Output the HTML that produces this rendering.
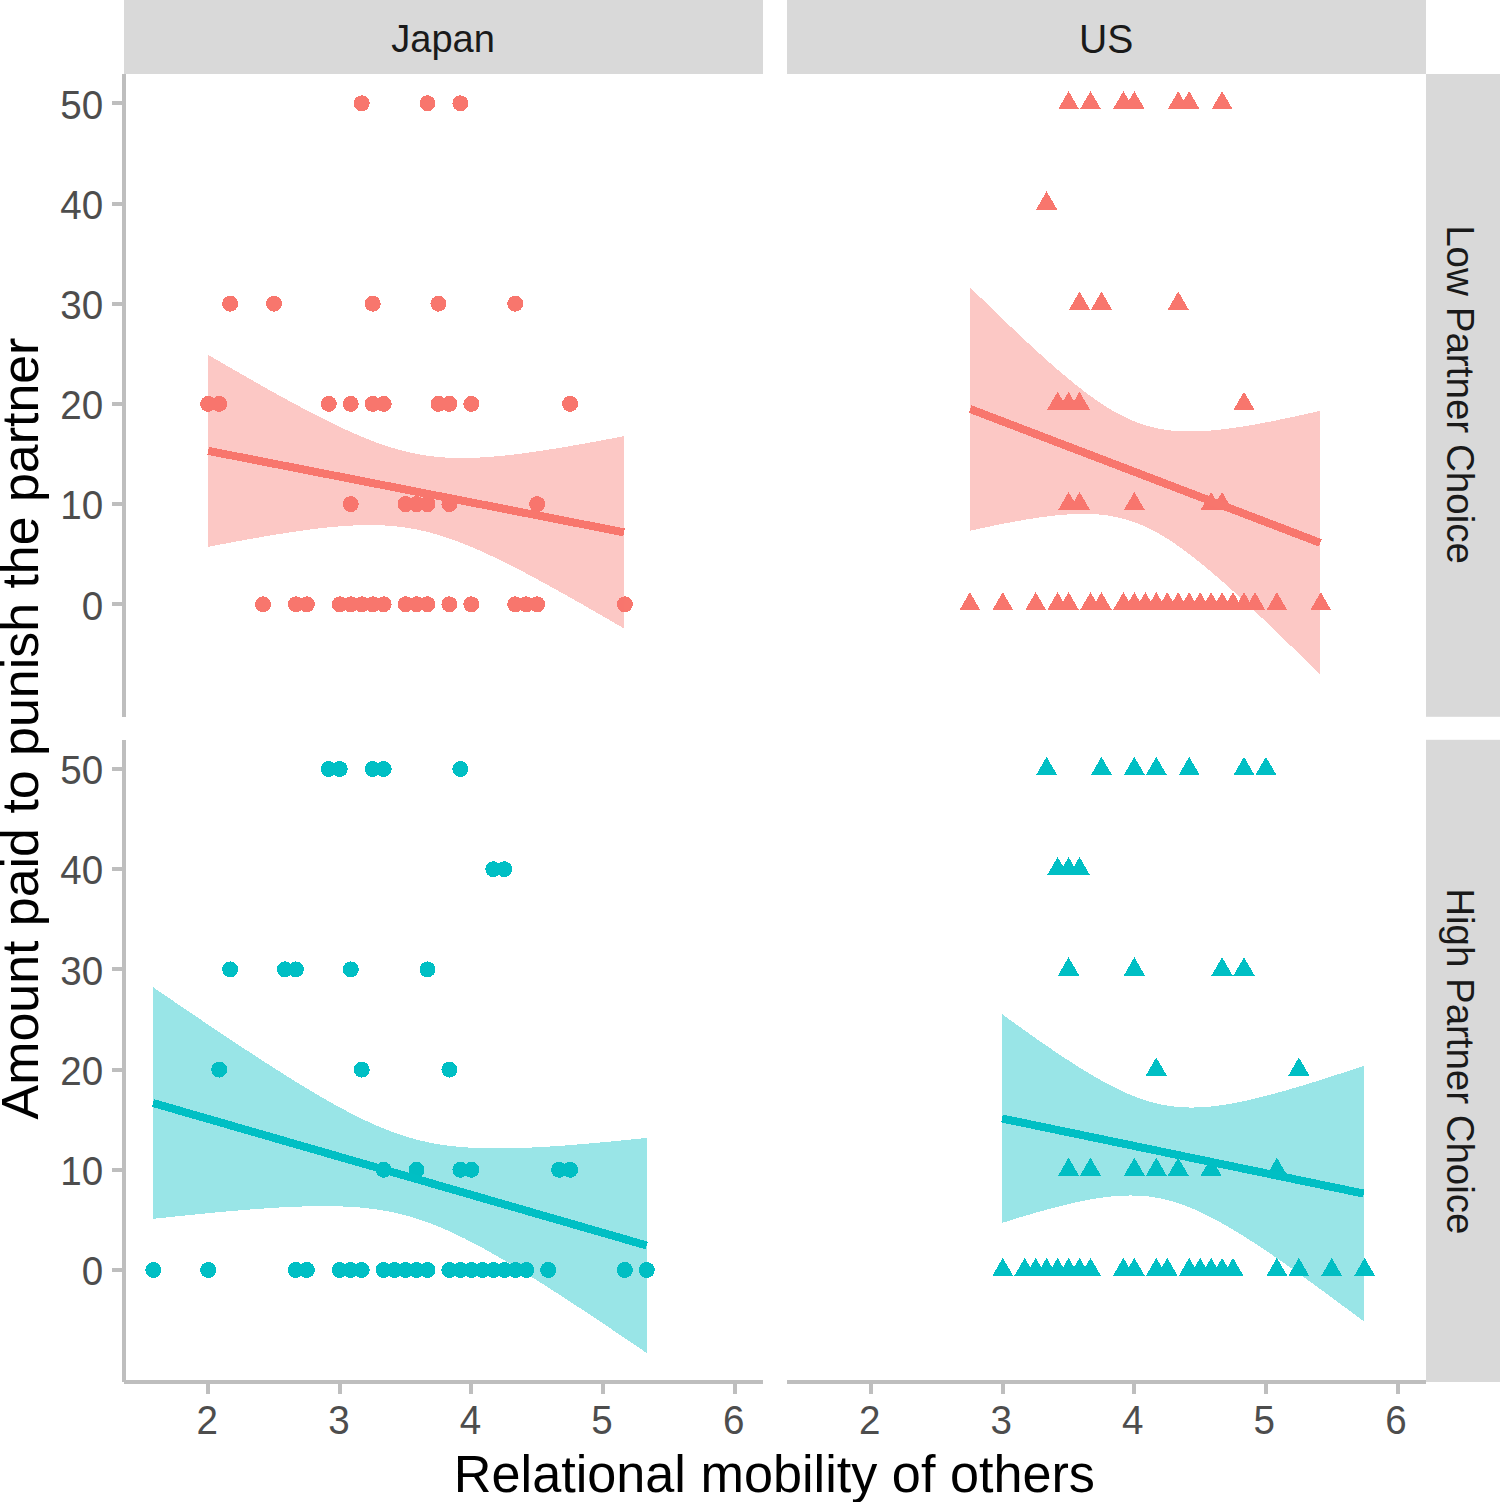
<!DOCTYPE html><html><head><meta charset="utf-8"><title>plot</title><style>html,body{margin:0;padding:0;background:#fff;width:1500px;height:1502px;overflow:hidden}svg{display:block;font-family:"Liberation Sans",sans-serif}</style></head><body><svg width="1500" height="1502" viewBox="0 0 1500 1502"><rect width="1500" height="1502" fill="#FFFFFF"/><rect x="124" y="0" width="639" height="74" fill="#D9D9D9"/>
<rect x="787" y="0" width="639" height="74" fill="#D9D9D9"/>
<rect x="1426" y="74" width="74" height="642.8" fill="#D9D9D9"/>
<rect x="1426" y="739.8" width="74" height="642.2" fill="#D9D9D9"/>
<g shape-rendering="crispEdges">
<g fill="#F8766D"><circle cx="361.71" cy="103.30" r="8.0"/><circle cx="427.50" cy="103.30" r="8.0"/><circle cx="460.39" cy="103.30" r="8.0"/><circle cx="230.13" cy="303.70" r="8.0"/><circle cx="273.99" cy="303.70" r="8.0"/><circle cx="372.68" cy="303.70" r="8.0"/><circle cx="438.47" cy="303.70" r="8.0"/><circle cx="515.22" cy="303.70" r="8.0"/><circle cx="208.20" cy="403.90" r="8.0"/><circle cx="219.17" cy="403.90" r="8.0"/><circle cx="328.81" cy="403.90" r="8.0"/><circle cx="350.75" cy="403.90" r="8.0"/><circle cx="372.68" cy="403.90" r="8.0"/><circle cx="383.64" cy="403.90" r="8.0"/><circle cx="438.47" cy="403.90" r="8.0"/><circle cx="449.43" cy="403.90" r="8.0"/><circle cx="471.36" cy="403.90" r="8.0"/><circle cx="570.05" cy="403.90" r="8.0"/><circle cx="350.75" cy="504.10" r="8.0"/><circle cx="405.57" cy="504.10" r="8.0"/><circle cx="416.54" cy="504.10" r="8.0"/><circle cx="427.50" cy="504.10" r="8.0"/><circle cx="449.43" cy="504.10" r="8.0"/><circle cx="537.15" cy="504.10" r="8.0"/><circle cx="263.02" cy="604.30" r="8.0"/><circle cx="295.92" cy="604.30" r="8.0"/><circle cx="306.88" cy="604.30" r="8.0"/><circle cx="339.78" cy="604.30" r="8.0"/><circle cx="350.75" cy="604.30" r="8.0"/><circle cx="361.71" cy="604.30" r="8.0"/><circle cx="372.68" cy="604.30" r="8.0"/><circle cx="383.64" cy="604.30" r="8.0"/><circle cx="405.57" cy="604.30" r="8.0"/><circle cx="416.54" cy="604.30" r="8.0"/><circle cx="427.50" cy="604.30" r="8.0"/><circle cx="449.43" cy="604.30" r="8.0"/><circle cx="471.36" cy="604.30" r="8.0"/><circle cx="515.22" cy="604.30" r="8.0"/><circle cx="526.19" cy="604.30" r="8.0"/><circle cx="537.15" cy="604.30" r="8.0"/><circle cx="624.87" cy="604.30" r="8.0"/></g>
<path fill="#F8766D" d="M1068.57,91.09L1079.14,109.40L1058.00,109.40ZM1090.50,91.09L1101.07,109.40L1079.93,109.40ZM1123.39,91.09L1133.97,109.40L1112.82,109.40ZM1134.36,91.09L1144.93,109.40L1123.79,109.40ZM1178.22,91.09L1188.79,109.40L1167.65,109.40ZM1189.18,91.09L1199.76,109.40L1178.61,109.40ZM1222.08,91.09L1232.65,109.40L1211.51,109.40ZM1046.64,191.29L1057.21,209.60L1036.07,209.60ZM1079.54,291.49L1090.11,309.80L1068.96,309.80ZM1101.47,291.49L1112.04,309.80L1090.89,309.80ZM1178.22,291.49L1188.79,309.80L1167.65,309.80ZM1057.61,391.69L1068.18,410.00L1047.03,410.00ZM1068.57,391.69L1079.14,410.00L1058.00,410.00ZM1079.54,391.69L1090.11,410.00L1068.96,410.00ZM1244.01,391.69L1254.58,410.00L1233.44,410.00ZM1068.57,491.89L1079.14,510.20L1058.00,510.20ZM1079.54,491.89L1090.11,510.20L1068.96,510.20ZM1134.36,491.89L1144.93,510.20L1123.79,510.20ZM1211.12,491.89L1221.69,510.20L1200.54,510.20ZM1222.08,491.89L1232.65,510.20L1211.51,510.20ZM969.88,592.09L980.46,610.40L959.31,610.40ZM1002.78,592.09L1013.35,610.40L992.21,610.40ZM1035.67,592.09L1046.25,610.40L1025.10,610.40ZM1057.61,592.09L1068.18,610.40L1047.03,610.40ZM1068.57,592.09L1079.14,610.40L1058.00,610.40ZM1090.50,592.09L1101.07,610.40L1079.93,610.40ZM1101.47,592.09L1112.04,610.40L1090.89,610.40ZM1123.39,592.09L1133.97,610.40L1112.82,610.40ZM1134.36,592.09L1144.93,610.40L1123.79,610.40ZM1145.33,592.09L1155.90,610.40L1134.75,610.40ZM1156.29,592.09L1166.86,610.40L1145.72,610.40ZM1167.26,592.09L1177.83,610.40L1156.68,610.40ZM1178.22,592.09L1188.79,610.40L1167.65,610.40ZM1189.18,592.09L1199.76,610.40L1178.61,610.40ZM1200.15,592.09L1210.72,610.40L1189.58,610.40ZM1211.12,592.09L1221.69,610.40L1200.54,610.40ZM1222.08,592.09L1232.65,610.40L1211.51,610.40ZM1233.05,592.09L1243.62,610.40L1222.47,610.40ZM1244.01,592.09L1254.58,610.40L1233.44,610.40ZM1254.98,592.09L1265.55,610.40L1244.40,610.40ZM1276.90,592.09L1287.48,610.40L1266.33,610.40ZM1320.77,592.09L1331.34,610.40L1310.19,610.40Z"/>
<g fill="#00BFC4"><circle cx="328.81" cy="769.00" r="8.0"/><circle cx="339.78" cy="769.00" r="8.0"/><circle cx="372.68" cy="769.00" r="8.0"/><circle cx="383.64" cy="769.00" r="8.0"/><circle cx="460.39" cy="769.00" r="8.0"/><circle cx="493.29" cy="869.20" r="8.0"/><circle cx="504.25" cy="869.20" r="8.0"/><circle cx="230.13" cy="969.40" r="8.0"/><circle cx="284.96" cy="969.40" r="8.0"/><circle cx="295.92" cy="969.40" r="8.0"/><circle cx="350.75" cy="969.40" r="8.0"/><circle cx="427.50" cy="969.40" r="8.0"/><circle cx="219.17" cy="1069.60" r="8.0"/><circle cx="361.71" cy="1069.60" r="8.0"/><circle cx="449.43" cy="1069.60" r="8.0"/><circle cx="383.64" cy="1169.80" r="8.0"/><circle cx="416.54" cy="1169.80" r="8.0"/><circle cx="460.39" cy="1169.80" r="8.0"/><circle cx="471.36" cy="1169.80" r="8.0"/><circle cx="559.08" cy="1169.80" r="8.0"/><circle cx="570.05" cy="1169.80" r="8.0"/><circle cx="153.37" cy="1270.00" r="8.0"/><circle cx="208.20" cy="1270.00" r="8.0"/><circle cx="295.92" cy="1270.00" r="8.0"/><circle cx="306.88" cy="1270.00" r="8.0"/><circle cx="339.78" cy="1270.00" r="8.0"/><circle cx="350.75" cy="1270.00" r="8.0"/><circle cx="361.71" cy="1270.00" r="8.0"/><circle cx="383.64" cy="1270.00" r="8.0"/><circle cx="394.61" cy="1270.00" r="8.0"/><circle cx="405.57" cy="1270.00" r="8.0"/><circle cx="416.54" cy="1270.00" r="8.0"/><circle cx="427.50" cy="1270.00" r="8.0"/><circle cx="449.43" cy="1270.00" r="8.0"/><circle cx="460.39" cy="1270.00" r="8.0"/><circle cx="471.36" cy="1270.00" r="8.0"/><circle cx="482.32" cy="1270.00" r="8.0"/><circle cx="493.29" cy="1270.00" r="8.0"/><circle cx="504.25" cy="1270.00" r="8.0"/><circle cx="515.22" cy="1270.00" r="8.0"/><circle cx="526.19" cy="1270.00" r="8.0"/><circle cx="548.12" cy="1270.00" r="8.0"/><circle cx="624.87" cy="1270.00" r="8.0"/><circle cx="646.80" cy="1270.00" r="8.0"/></g>
<path fill="#00BFC4" d="M1046.64,756.79L1057.21,775.10L1036.07,775.10ZM1101.47,756.79L1112.04,775.10L1090.89,775.10ZM1134.36,756.79L1144.93,775.10L1123.79,775.10ZM1156.29,756.79L1166.86,775.10L1145.72,775.10ZM1189.18,756.79L1199.76,775.10L1178.61,775.10ZM1244.01,756.79L1254.58,775.10L1233.44,775.10ZM1265.94,756.79L1276.51,775.10L1255.37,775.10ZM1057.61,856.99L1068.18,875.30L1047.03,875.30ZM1068.57,856.99L1079.14,875.30L1058.00,875.30ZM1079.54,856.99L1090.11,875.30L1068.96,875.30ZM1068.57,957.19L1079.14,975.50L1058.00,975.50ZM1134.36,957.19L1144.93,975.50L1123.79,975.50ZM1222.08,957.19L1232.65,975.50L1211.51,975.50ZM1244.01,957.19L1254.58,975.50L1233.44,975.50ZM1156.29,1057.39L1166.86,1075.70L1145.72,1075.70ZM1298.84,1057.39L1309.41,1075.70L1288.26,1075.70ZM1068.57,1157.59L1079.14,1175.90L1058.00,1175.90ZM1090.50,1157.59L1101.07,1175.90L1079.93,1175.90ZM1134.36,1157.59L1144.93,1175.90L1123.79,1175.90ZM1156.29,1157.59L1166.86,1175.90L1145.72,1175.90ZM1178.22,1157.59L1188.79,1175.90L1167.65,1175.90ZM1211.12,1157.59L1221.69,1175.90L1200.54,1175.90ZM1276.90,1157.59L1287.48,1175.90L1266.33,1175.90ZM1002.78,1257.79L1013.35,1276.10L992.21,1276.10ZM1024.71,1257.79L1035.28,1276.10L1014.14,1276.10ZM1035.67,1257.79L1046.25,1276.10L1025.10,1276.10ZM1046.64,1257.79L1057.21,1276.10L1036.07,1276.10ZM1057.61,1257.79L1068.18,1276.10L1047.03,1276.10ZM1068.57,1257.79L1079.14,1276.10L1058.00,1276.10ZM1079.54,1257.79L1090.11,1276.10L1068.96,1276.10ZM1090.50,1257.79L1101.07,1276.10L1079.93,1276.10ZM1123.39,1257.79L1133.97,1276.10L1112.82,1276.10ZM1134.36,1257.79L1144.93,1276.10L1123.79,1276.10ZM1156.29,1257.79L1166.86,1276.10L1145.72,1276.10ZM1167.26,1257.79L1177.83,1276.10L1156.68,1276.10ZM1189.18,1257.79L1199.76,1276.10L1178.61,1276.10ZM1200.15,1257.79L1210.72,1276.10L1189.58,1276.10ZM1211.12,1257.79L1221.69,1276.10L1200.54,1276.10ZM1222.08,1257.79L1232.65,1276.10L1211.51,1276.10ZM1233.05,1257.79L1243.62,1276.10L1222.47,1276.10ZM1276.90,1257.79L1287.48,1276.10L1266.33,1276.10ZM1298.84,1257.79L1309.41,1276.10L1288.26,1276.10ZM1331.73,1257.79L1342.30,1276.10L1321.16,1276.10ZM1364.62,1257.79L1375.20,1276.10L1354.05,1276.10Z"/>
<g fill-opacity="0.4">
<path d="M208.20,354.83 L213.46,357.91 L218.73,360.99 L223.99,364.06 L229.26,367.11 L234.52,370.16 L239.79,373.20 L245.05,376.22 L250.32,379.23 L255.58,382.23 L260.85,385.21 L266.11,388.17 L271.37,391.12 L276.64,394.05 L281.90,396.96 L287.17,399.84 L292.43,402.70 L297.70,405.54 L302.96,408.35 L308.23,411.12 L313.49,413.86 L318.76,416.56 L324.02,419.22 L329.28,421.84 L334.55,424.41 L339.81,426.93 L345.08,429.38 L350.34,431.78 L355.61,434.10 L360.87,436.35 L366.14,438.52 L371.40,440.60 L376.67,442.58 L381.93,444.46 L387.19,446.24 L392.46,447.90 L397.72,449.44 L402.99,450.86 L408.25,452.14 L413.52,453.30 L418.78,454.32 L424.05,455.22 L429.31,455.98 L434.58,456.61 L439.84,457.12 L445.11,457.51 L450.37,457.78 L455.63,457.95 L460.90,458.02 L466.16,457.99 L471.43,457.88 L476.69,457.68 L481.96,457.41 L487.22,457.08 L492.49,456.67 L497.75,456.22 L503.02,455.70 L508.28,455.15 L513.54,454.54 L518.81,453.90 L524.07,453.22 L529.34,452.50 L534.60,451.76 L539.87,450.98 L545.13,450.18 L550.40,449.36 L555.66,448.51 L560.93,447.64 L566.19,446.75 L571.45,445.85 L576.72,444.93 L581.98,444.00 L587.25,443.05 L592.51,442.09 L597.78,441.11 L603.04,440.13 L608.31,439.13 L613.57,438.12 L618.84,437.11 L624.10,436.09 L624.10,628.61 L618.84,625.53 L613.57,622.45 L608.31,619.38 L603.04,616.32 L597.78,613.27 L592.51,610.24 L587.25,607.21 L581.98,604.20 L576.72,601.20 L571.45,598.22 L566.19,595.25 L560.93,592.30 L555.66,589.37 L550.40,586.46 L545.13,583.57 L539.87,580.71 L534.60,577.87 L529.34,575.06 L524.07,572.28 L518.81,569.54 L513.54,566.83 L508.28,564.16 L503.02,561.54 L497.75,558.97 L492.49,556.44 L487.22,553.98 L481.96,551.58 L476.69,549.25 L471.43,546.99 L466.16,544.81 L460.90,542.72 L455.63,540.72 L450.37,538.83 L445.11,537.04 L439.84,535.37 L434.58,533.81 L429.31,532.38 L424.05,531.08 L418.78,529.91 L413.52,528.87 L408.25,527.96 L402.99,527.19 L397.72,526.54 L392.46,526.02 L387.19,525.61 L381.93,525.32 L376.67,525.14 L371.40,525.07 L366.14,525.08 L360.87,525.19 L355.61,525.37 L350.34,525.63 L345.08,525.96 L339.81,526.36 L334.55,526.81 L329.28,527.31 L324.02,527.87 L318.76,528.47 L313.49,529.11 L308.23,529.78 L302.96,530.49 L297.70,531.24 L292.43,532.01 L287.17,532.81 L281.90,533.63 L276.64,534.47 L271.37,535.34 L266.11,536.22 L260.85,537.12 L255.58,538.04 L250.32,538.98 L245.05,539.92 L239.79,540.88 L234.52,541.86 L229.26,542.84 L223.99,543.83 L218.73,544.84 L213.46,545.85 L208.20,546.87Z" fill="#F8766D"/>
<path d="M970.10,287.27 L974.53,291.65 L978.97,296.01 L983.40,300.35 L987.83,304.68 L992.26,309.00 L996.70,313.29 L1001.13,317.57 L1005.56,321.83 L1010.00,326.07 L1014.43,330.28 L1018.86,334.47 L1023.29,338.63 L1027.73,342.76 L1032.16,346.86 L1036.59,350.92 L1041.03,354.95 L1045.46,358.94 L1049.89,362.88 L1054.33,366.77 L1058.76,370.60 L1063.19,374.38 L1067.62,378.10 L1072.06,381.74 L1076.49,385.31 L1080.92,388.80 L1085.36,392.20 L1089.79,395.49 L1094.22,398.69 L1098.65,401.76 L1103.09,404.72 L1107.52,407.54 L1111.95,410.22 L1116.39,412.76 L1120.82,415.14 L1125.25,417.35 L1129.68,419.40 L1134.12,421.28 L1138.55,422.99 L1142.98,424.53 L1147.42,425.89 L1151.85,427.09 L1156.28,428.12 L1160.72,429.00 L1165.15,429.73 L1169.58,430.32 L1174.01,430.77 L1178.45,431.10 L1182.88,431.31 L1187.31,431.42 L1191.75,431.43 L1196.18,431.34 L1200.61,431.17 L1205.04,430.93 L1209.48,430.61 L1213.91,430.23 L1218.34,429.79 L1222.78,429.30 L1227.21,428.75 L1231.64,428.16 L1236.07,427.53 L1240.51,426.86 L1244.94,426.16 L1249.37,425.42 L1253.81,424.65 L1258.24,423.86 L1262.67,423.03 L1267.11,422.19 L1271.54,421.32 L1275.97,420.44 L1280.40,419.53 L1284.84,418.61 L1289.27,417.67 L1293.70,416.71 L1298.14,415.75 L1302.57,414.76 L1307.00,413.77 L1311.43,412.76 L1315.87,411.75 L1320.30,410.72 L1320.30,674.98 L1315.87,670.57 L1311.43,666.16 L1307.00,661.77 L1302.57,657.38 L1298.14,653.01 L1293.70,648.65 L1289.27,644.31 L1284.84,639.98 L1280.40,635.67 L1275.97,631.38 L1271.54,627.10 L1267.11,622.85 L1262.67,618.61 L1258.24,614.40 L1253.81,610.22 L1249.37,606.06 L1244.94,601.94 L1240.51,597.84 L1236.07,593.78 L1231.64,589.76 L1227.21,585.79 L1222.78,581.85 L1218.34,577.97 L1213.91,574.14 L1209.48,570.37 L1205.04,566.67 L1200.61,563.03 L1196.18,559.48 L1191.75,556.00 L1187.31,552.62 L1182.88,549.34 L1178.45,546.16 L1174.01,543.10 L1169.58,540.17 L1165.15,537.37 L1160.72,534.71 L1156.28,532.20 L1151.85,529.84 L1147.42,527.65 L1142.98,525.63 L1138.55,523.78 L1134.12,522.10 L1129.68,520.59 L1125.25,519.25 L1120.82,518.08 L1116.39,517.07 L1111.95,516.21 L1107.52,515.51 L1103.09,514.94 L1098.65,514.51 L1094.22,514.19 L1089.79,514.00 L1085.36,513.91 L1080.92,513.92 L1076.49,514.01 L1072.06,514.19 L1067.62,514.45 L1063.19,514.78 L1058.76,515.17 L1054.33,515.62 L1049.89,516.12 L1045.46,516.67 L1041.03,517.27 L1036.59,517.90 L1032.16,518.58 L1027.73,519.29 L1023.29,520.03 L1018.86,520.81 L1014.43,521.61 L1010.00,522.43 L1005.56,523.28 L1001.13,524.15 L996.70,525.04 L992.26,525.95 L987.83,526.87 L983.40,527.81 L978.97,528.77 L974.53,529.74 L970.10,530.73Z" fill="#F8766D"/>
<path d="M153.00,987.11 L159.25,991.39 L165.50,995.68 L171.75,999.95 L178.00,1004.22 L184.25,1008.47 L190.50,1012.72 L196.75,1016.95 L203.01,1021.18 L209.26,1025.39 L215.51,1029.59 L221.76,1033.78 L228.01,1037.95 L234.26,1042.10 L240.51,1046.23 L246.76,1050.35 L253.01,1054.44 L259.26,1058.51 L265.51,1062.56 L271.76,1066.57 L278.01,1070.56 L284.26,1074.51 L290.51,1078.42 L296.76,1082.30 L303.02,1086.13 L309.27,1089.90 L315.52,1093.63 L321.77,1097.29 L328.02,1100.88 L334.27,1104.40 L340.52,1107.84 L346.77,1111.18 L353.02,1114.43 L359.27,1117.57 L365.52,1120.58 L371.77,1123.47 L378.02,1126.22 L384.27,1128.81 L390.52,1131.25 L396.77,1133.52 L403.03,1135.62 L409.28,1137.55 L415.53,1139.29 L421.78,1140.86 L428.03,1142.26 L434.28,1143.49 L440.53,1144.55 L446.78,1145.47 L453.03,1146.23 L459.28,1146.87 L465.53,1147.38 L471.78,1147.78 L478.03,1148.08 L484.28,1148.28 L490.53,1148.40 L496.78,1148.44 L503.04,1148.41 L509.29,1148.31 L515.54,1148.16 L521.79,1147.96 L528.04,1147.71 L534.29,1147.41 L540.54,1147.08 L546.79,1146.72 L553.04,1146.32 L559.29,1145.89 L565.54,1145.44 L571.79,1144.96 L578.04,1144.46 L584.29,1143.94 L590.54,1143.40 L596.79,1142.84 L603.05,1142.27 L609.30,1141.68 L615.55,1141.08 L621.80,1140.47 L628.05,1139.85 L634.30,1139.21 L640.55,1138.57 L646.80,1137.91 L646.80,1353.09 L640.55,1348.83 L634.30,1344.57 L628.05,1340.33 L621.80,1336.10 L615.55,1331.88 L609.30,1327.67 L603.05,1323.48 L596.79,1319.30 L590.54,1315.13 L584.29,1310.99 L578.04,1306.86 L571.79,1302.75 L565.54,1298.66 L559.29,1294.60 L553.04,1290.57 L546.79,1286.56 L540.54,1282.59 L534.29,1278.65 L528.04,1274.75 L521.79,1270.89 L515.54,1267.08 L509.29,1263.32 L503.04,1259.62 L496.78,1255.98 L490.53,1252.41 L484.28,1248.92 L478.03,1245.52 L471.78,1242.20 L465.53,1239.00 L459.28,1235.90 L453.03,1232.93 L446.78,1230.09 L440.53,1227.40 L434.28,1224.86 L428.03,1222.48 L421.78,1220.26 L415.53,1218.23 L409.28,1216.36 L403.03,1214.68 L396.77,1213.17 L390.52,1211.84 L384.27,1210.67 L378.02,1209.66 L371.77,1208.80 L365.52,1208.08 L359.27,1207.48 L353.02,1207.01 L346.77,1206.65 L340.52,1206.39 L334.27,1206.22 L328.02,1206.13 L321.77,1206.12 L315.52,1206.17 L309.27,1206.29 L303.02,1206.46 L296.76,1206.68 L290.51,1206.94 L284.26,1207.25 L278.01,1207.59 L271.76,1207.97 L265.51,1208.38 L259.26,1208.82 L253.01,1209.28 L246.76,1209.77 L240.51,1210.27 L234.26,1210.80 L228.01,1211.35 L221.76,1211.91 L215.51,1212.48 L209.26,1213.08 L203.01,1213.68 L196.75,1214.30 L190.50,1214.93 L184.25,1215.57 L178.00,1216.21 L171.75,1216.87 L165.50,1217.54 L159.25,1218.21 L153.00,1218.89Z" fill="#00BFC4"/>
<path d="M1002.00,1014.07 L1006.58,1017.42 L1011.16,1020.74 L1015.74,1024.05 L1020.32,1027.34 L1024.90,1030.62 L1029.48,1033.87 L1034.06,1037.10 L1038.64,1040.31 L1043.22,1043.50 L1047.80,1046.65 L1052.38,1049.78 L1056.96,1052.87 L1061.54,1055.93 L1066.12,1058.95 L1070.70,1061.93 L1075.28,1064.87 L1079.86,1067.76 L1084.44,1070.59 L1089.02,1073.36 L1093.59,1076.08 L1098.17,1078.72 L1102.75,1081.29 L1107.33,1083.77 L1111.91,1086.17 L1116.49,1088.48 L1121.07,1090.68 L1125.65,1092.77 L1130.23,1094.74 L1134.81,1096.59 L1139.39,1098.31 L1143.97,1099.89 L1148.55,1101.33 L1153.13,1102.62 L1157.71,1103.75 L1162.29,1104.74 L1166.87,1105.57 L1171.45,1106.25 L1176.03,1106.78 L1180.61,1107.17 L1185.19,1107.41 L1189.77,1107.52 L1194.35,1107.50 L1198.93,1107.36 L1203.51,1107.11 L1208.09,1106.75 L1212.67,1106.30 L1217.25,1105.75 L1221.83,1105.12 L1226.41,1104.41 L1230.99,1103.63 L1235.57,1102.78 L1240.15,1101.88 L1244.73,1100.92 L1249.31,1099.90 L1253.89,1098.84 L1258.47,1097.74 L1263.05,1096.60 L1267.63,1095.42 L1272.21,1094.21 L1276.78,1092.97 L1281.36,1091.70 L1285.94,1090.40 L1290.52,1089.08 L1295.10,1087.74 L1299.68,1086.38 L1304.26,1084.99 L1308.84,1083.59 L1313.42,1082.17 L1318.00,1080.74 L1322.58,1079.29 L1327.16,1077.83 L1331.74,1076.36 L1336.32,1074.87 L1340.90,1073.38 L1345.48,1071.87 L1350.06,1070.35 L1354.64,1068.83 L1359.22,1067.29 L1363.80,1065.75 L1363.80,1321.45 L1359.22,1318.00 L1354.64,1314.57 L1350.06,1311.14 L1345.48,1307.72 L1340.90,1304.32 L1336.32,1300.92 L1331.74,1297.53 L1327.16,1294.16 L1322.58,1290.80 L1318.00,1287.45 L1313.42,1284.11 L1308.84,1280.79 L1304.26,1277.49 L1299.68,1274.21 L1295.10,1270.94 L1290.52,1267.70 L1285.94,1264.48 L1281.36,1261.28 L1276.78,1258.11 L1272.21,1254.96 L1267.63,1251.85 L1263.05,1248.77 L1258.47,1245.73 L1253.89,1242.73 L1249.31,1239.77 L1244.73,1236.85 L1240.15,1233.99 L1235.57,1231.18 L1230.99,1228.43 L1226.41,1225.75 L1221.83,1223.14 L1217.25,1220.61 L1212.67,1218.16 L1208.09,1215.80 L1203.51,1213.54 L1198.93,1211.39 L1194.35,1209.35 L1189.77,1207.43 L1185.19,1205.64 L1180.61,1203.98 L1176.03,1202.47 L1171.45,1201.10 L1166.87,1199.87 L1162.29,1198.80 L1157.71,1197.89 L1153.13,1197.12 L1148.55,1196.51 L1143.97,1196.05 L1139.39,1195.73 L1134.81,1195.54 L1130.23,1195.49 L1125.65,1195.56 L1121.07,1195.75 L1116.49,1196.05 L1111.91,1196.46 L1107.33,1196.96 L1102.75,1197.54 L1098.17,1198.21 L1093.59,1198.95 L1089.02,1199.76 L1084.44,1200.63 L1079.86,1201.57 L1075.28,1202.55 L1070.70,1203.59 L1066.12,1204.66 L1061.54,1205.78 L1056.96,1206.94 L1052.38,1208.14 L1047.80,1209.36 L1043.22,1210.62 L1038.64,1211.90 L1034.06,1213.21 L1029.48,1214.54 L1024.90,1215.89 L1020.32,1217.26 L1015.74,1218.65 L1011.16,1220.06 L1006.58,1221.49 L1002.00,1222.93Z" fill="#00BFC4"/>
</g>
</g>
<line x1="208.20" y1="450.85" x2="624.10" y2="532.35" stroke="#F8766D" stroke-width="8" shape-rendering="crispEdges"/>
<line x1="970.10" y1="409.00" x2="1320.30" y2="542.85" stroke="#F8766D" stroke-width="8" shape-rendering="crispEdges"/>
<line x1="153.00" y1="1103.00" x2="646.80" y2="1245.50" stroke="#00BFC4" stroke-width="8" shape-rendering="crispEdges"/>
<line x1="1002.00" y1="1118.50" x2="1363.80" y2="1193.60" stroke="#00BFC4" stroke-width="8" shape-rendering="crispEdges"/>
<path d="M124,74V716.8M124,739.8V1382M124,1382H763M787,1382H1426M112.0,604.30H124M112.0,504.10H124M112.0,403.90H124M112.0,303.70H124M112.0,203.50H124M112.0,103.30H124M112.0,1270.00H124M112.0,1169.80H124M112.0,1069.60H124M112.0,969.40H124M112.0,869.20H124M112.0,769.00H124M208.20,1382V1394M339.78,1382V1394M471.36,1382V1394M602.94,1382V1394M734.52,1382V1394M871.20,1382V1394M1002.78,1382V1394M1134.36,1382V1394M1265.94,1382V1394M1397.52,1382V1394" stroke="#BEBEBE" stroke-width="4" fill="none" shape-rendering="crispEdges"/>
<g font-family="Liberation Sans, sans-serif"><text transform="translate(103.20,619.50) scale(1,1.04)" font-size="38.6" fill="#4D4D4D" text-anchor="end">0</text><text transform="translate(103.20,519.30) scale(1,1.04)" font-size="38.6" fill="#4D4D4D" text-anchor="end">10</text><text transform="translate(103.20,419.10) scale(1,1.04)" font-size="38.6" fill="#4D4D4D" text-anchor="end">20</text><text transform="translate(103.20,318.90) scale(1,1.04)" font-size="38.6" fill="#4D4D4D" text-anchor="end">30</text><text transform="translate(103.20,218.70) scale(1,1.04)" font-size="38.6" fill="#4D4D4D" text-anchor="end">40</text><text transform="translate(103.20,118.50) scale(1,1.04)" font-size="38.6" fill="#4D4D4D" text-anchor="end">50</text><text transform="translate(103.20,1285.20) scale(1,1.04)" font-size="38.6" fill="#4D4D4D" text-anchor="end">0</text><text transform="translate(103.20,1185.00) scale(1,1.04)" font-size="38.6" fill="#4D4D4D" text-anchor="end">10</text><text transform="translate(103.20,1084.80) scale(1,1.04)" font-size="38.6" fill="#4D4D4D" text-anchor="end">20</text><text transform="translate(103.20,984.60) scale(1,1.04)" font-size="38.6" fill="#4D4D4D" text-anchor="end">30</text><text transform="translate(103.20,884.40) scale(1,1.04)" font-size="38.6" fill="#4D4D4D" text-anchor="end">40</text><text transform="translate(103.20,784.20) scale(1,1.04)" font-size="38.6" fill="#4D4D4D" text-anchor="end">50</text><text transform="translate(207.30,1433.60) scale(1,1.04)" font-size="38.6" fill="#4D4D4D" text-anchor="middle">2</text><text transform="translate(338.88,1433.60) scale(1,1.04)" font-size="38.6" fill="#4D4D4D" text-anchor="middle">3</text><text transform="translate(470.46,1433.60) scale(1,1.04)" font-size="38.6" fill="#4D4D4D" text-anchor="middle">4</text><text transform="translate(602.04,1433.60) scale(1,1.04)" font-size="38.6" fill="#4D4D4D" text-anchor="middle">5</text><text transform="translate(733.62,1433.60) scale(1,1.04)" font-size="38.6" fill="#4D4D4D" text-anchor="middle">6</text><text transform="translate(869.60,1433.60) scale(1,1.04)" font-size="38.6" fill="#4D4D4D" text-anchor="middle">2</text><text transform="translate(1001.18,1433.60) scale(1,1.04)" font-size="38.6" fill="#4D4D4D" text-anchor="middle">3</text><text transform="translate(1132.76,1433.60) scale(1,1.04)" font-size="38.6" fill="#4D4D4D" text-anchor="middle">4</text><text transform="translate(1264.34,1433.60) scale(1,1.04)" font-size="38.6" fill="#4D4D4D" text-anchor="middle">5</text><text transform="translate(1395.92,1433.60) scale(1,1.04)" font-size="38.6" fill="#4D4D4D" text-anchor="middle">6</text><text transform="translate(443.10,52.10) scale(1,1.0)" font-size="38.1" fill="#1A1A1A" text-anchor="middle">Japan</text><text transform="translate(1106.20,52.60) scale(1,1.02)" font-size="39.1" fill="#1A1A1A" text-anchor="middle">US</text><text transform="translate(1447.40,394.60) rotate(90) scale(1,1.01)" font-size="38.6" fill="#1A1A1A" text-anchor="middle">Low Partner Choice</text><text transform="translate(1447.40,1061.30) rotate(90) scale(1,1.01)" font-size="38.45" fill="#1A1A1A" text-anchor="middle">High Partner Choice</text><text transform="translate(774.40,1491.70) scale(1,1.0)" font-size="52.2" fill="#000000" text-anchor="middle">Relational mobility of others</text><text transform="translate(38.00,728.50) rotate(-90) scale(1,1.0)" font-size="51.9" fill="#000000" text-anchor="middle">Amount paid to punish the partner</text></g></svg></body></html>
